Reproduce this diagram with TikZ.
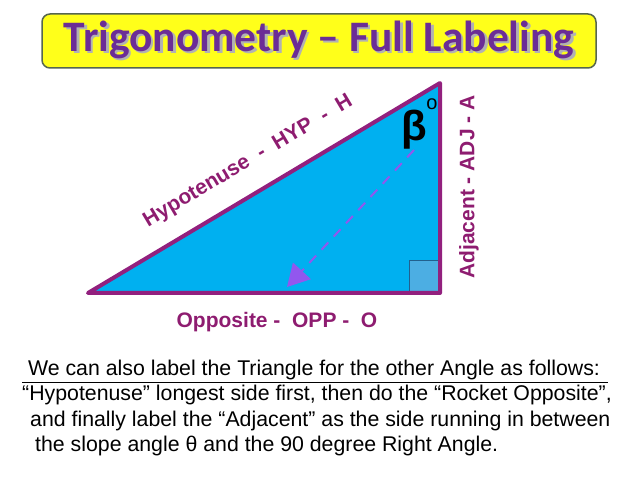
\documentclass[tikz,border=0pt]{standalone}
\usepackage{fontspec}
\setmainfont{Liberation Sans}
\newfontfamily\titlefont{Carlito}
\usetikzlibrary{arrows.meta}
\definecolor{titlepurple}{HTML}{6B2D96}
\definecolor{titleyellow}{HTML}{FFFF1A}
\definecolor{titleborder}{HTML}{56664E}
\definecolor{triblue}{HTML}{00B0F0}
\definecolor{trimag}{HTML}{92207E}
\definecolor{labmag}{HTML}{8E1C70}
\definecolor{sqblue}{HTML}{4CAEE3}
\definecolor{sqedge}{HTML}{22608E}
\definecolor{arrowpurple}{HTML}{9257EE}
\tikzset{
  sidelabel/.style={text=labmag, font=\fontsize{21}{24}\selectfont\bfseries, inner sep=0pt},
  bodyline/.style={anchor=base west, inner sep=0pt, font=\fontsize{21.3}{25}\selectfont},
  titletext/.style={font=\titlefont\fontsize{43.5}{47}\selectfont\bfseries, inner sep=0pt},
}
\begin{document}
\begin{tikzpicture}[x=1pt,y=-1pt]
\useasboundingbox (0,0) rectangle (638,478);
% title
\node[draw=titleborder, line width=1.5pt, fill=titleyellow, rounded corners=8pt,
      minimum width=554pt, minimum height=54pt, inner sep=0pt] (titlebox) at (319,41) {};
\node[titletext, text=gray!60] (titleshadow) at (321.5,41.5) {Trigonometry – Full Labeling};
\node[titletext, text=titlepurple] (title) at (319,39.5) {Trigonometry – Full Labeling};
% triangle
\coordinate (L) at (88,293);
\coordinate (R) at (440,293);
\coordinate (T) at (440,83);
\fill[triblue] (L) -- (R) -- (T) -- cycle;
\draw[sqedge, fill=sqblue, line width=0.8pt] (409,293) rectangle (440,260);
\draw[trimag, line width=4pt, line join=round, line cap=round] (L) -- (R) -- (T) -- cycle;
% beta
\node[font=\fontsize{42}{46}\selectfont\bfseries, inner sep=0pt] (beta) at (414,130) {β};
\node[font=\fontsize{20}{22}\selectfont, inner sep=0pt] (deg) at (432,104) {o};
% dashed arrow
\coordinate (A1) at (414,150);
\coordinate (A2) at (287,287);
\draw[arrowpurple, line width=2pt, dash pattern=on 10pt off 8pt,
      -{Triangle[length=22pt, width=24pt]}] (A1) -- (A2);
% side labels
\path (L) -- node[sidelabel, sloped, above=21pt, pos=0.5] (hyp) {Hypotenuse \ - \ HYP \ - \ H} (T);
\node[sidelabel, rotate=90] (adj) at (469,187) {Adjacent - ADJ - A};
\node[sidelabel] (opp) at (277,322) {Opposite - \ OPP - \ O};
% body text
\node[bodyline] (l1) at (22,376) {\underline{ We can also label the Triangle for the other Angle as follows: }};
\node[bodyline] (l2) at (22,401) {“Hypotenuse” longest side first, then do the “Rocket Opposite”,};
\node[bodyline] (l3) at (30,427) {and finally label the “Adjacent” as the side running in between};
\node[bodyline] (l4) at (35,452) {the slope angle θ and the 90 degree Right Angle.};
\end{tikzpicture}
\end{document}
